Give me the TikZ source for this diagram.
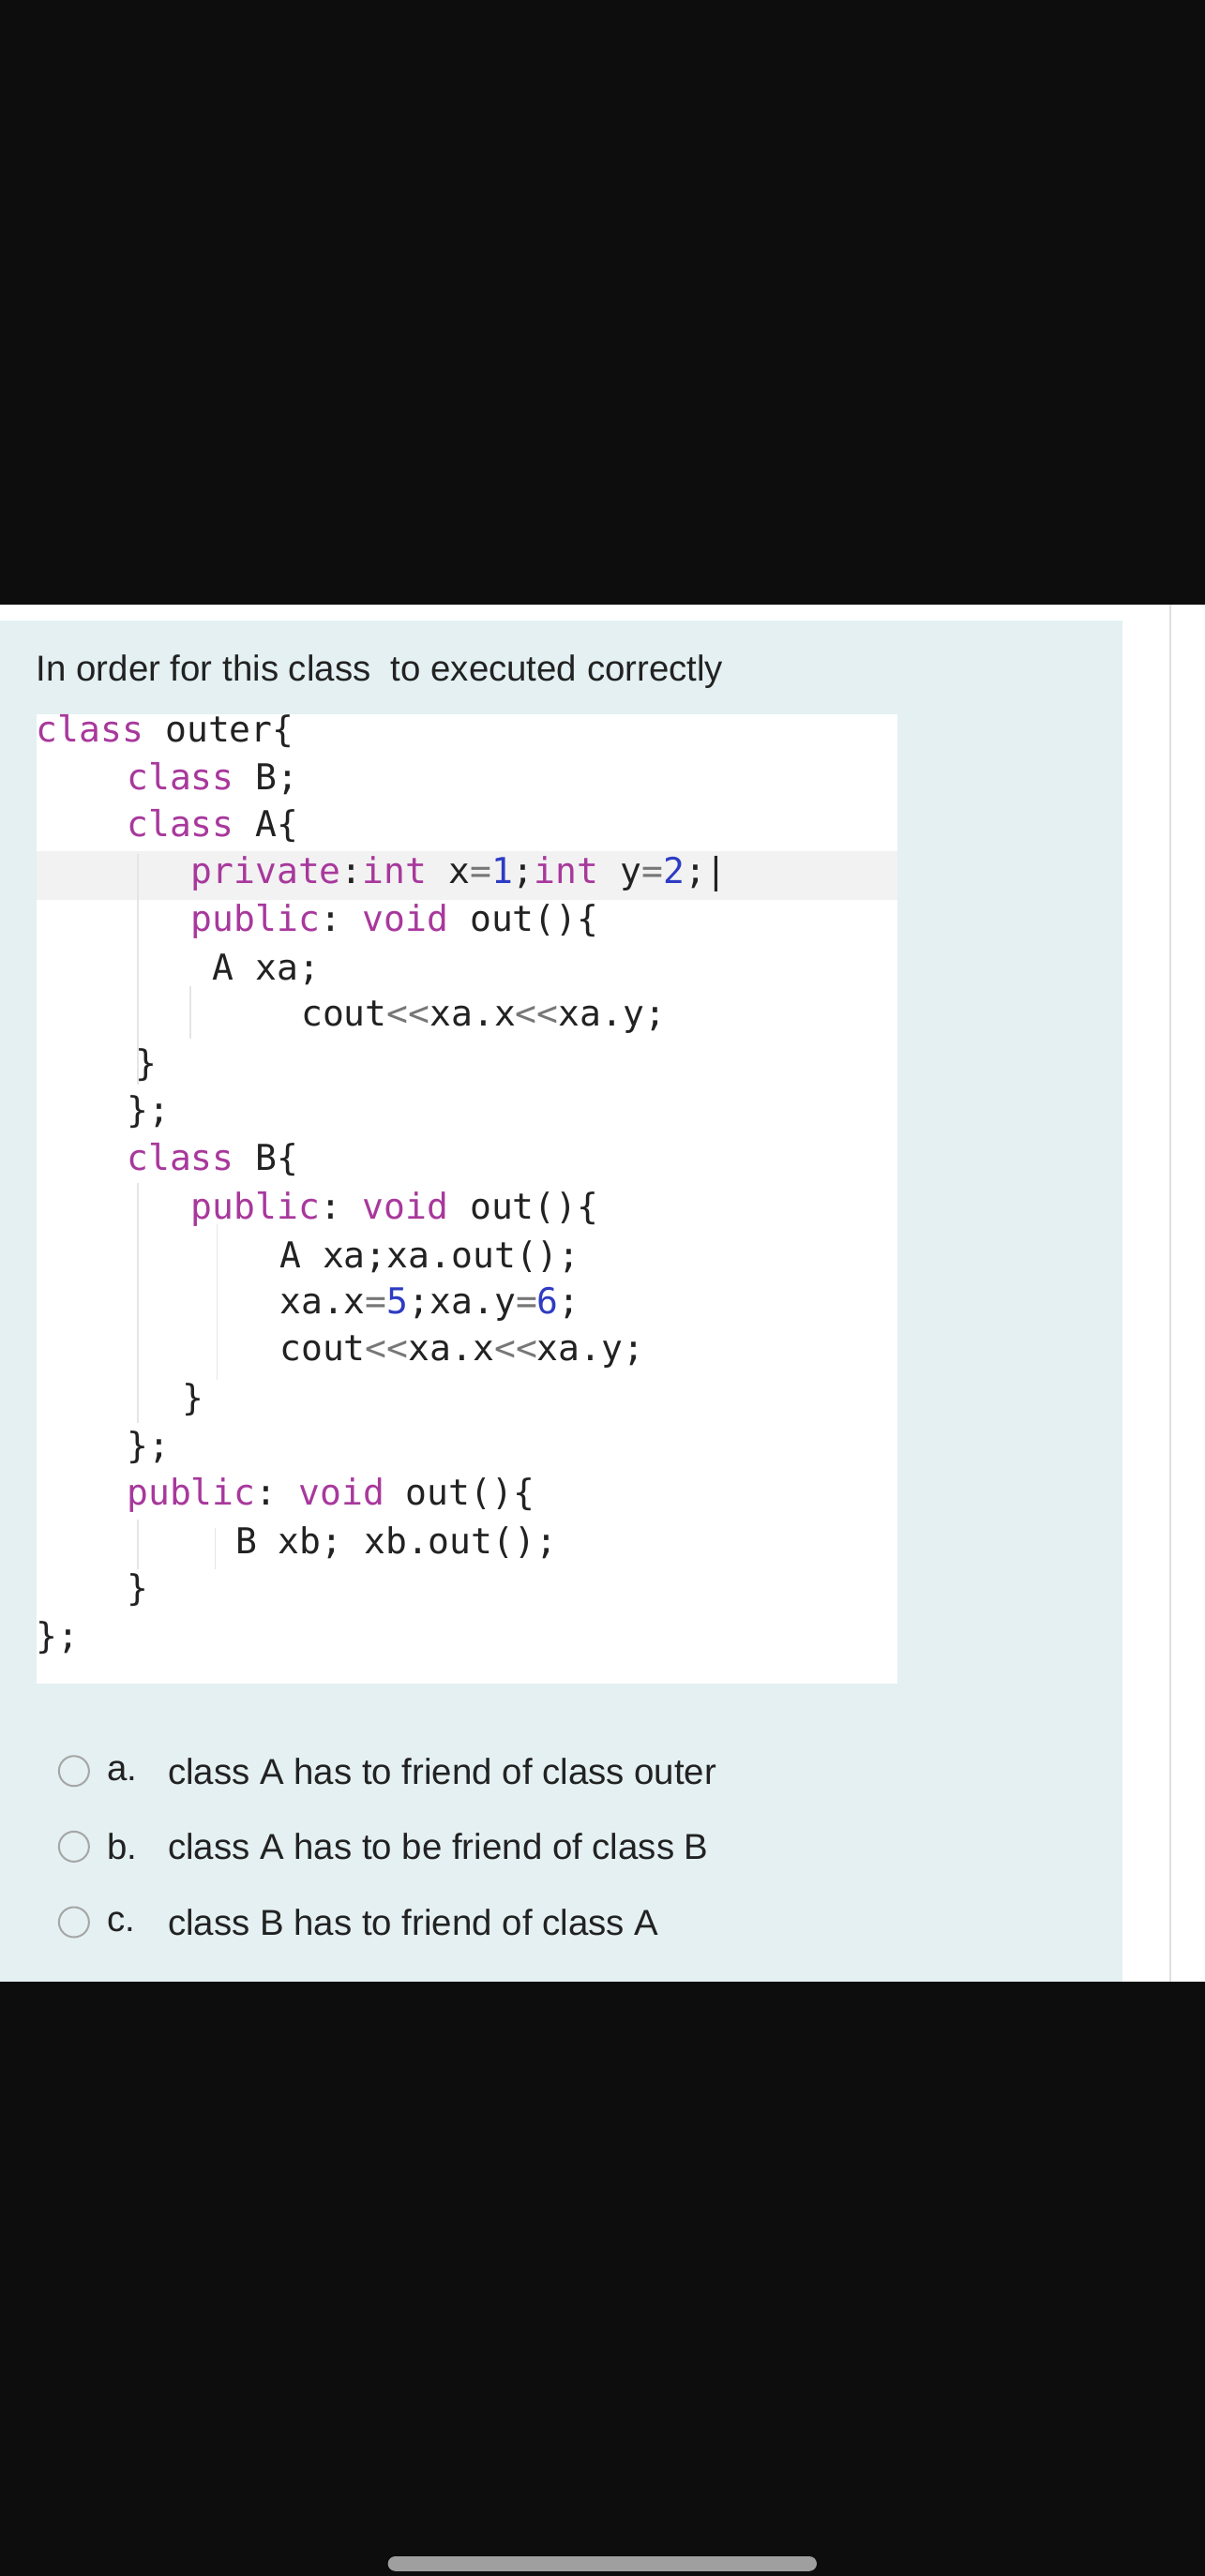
\documentclass[tikz,border=0pt]{standalone}
\usepackage{fontspec}
\setmainfont{Liberation Sans}
\newfontfamily\codefont{DejaVu Sans Mono}
\definecolor{kw}{HTML}{A8389C}
\definecolor{num}{HTML}{2E3BC4}
\definecolor{op}{HTML}{777777}
\definecolor{txt}{HTML}{222222}
\definecolor{panel}{HTML}{E4F0F2}
\newcommand{\kw}[1]{\textcolor{kw}{#1}}
\newcommand{\nm}[1]{\textcolor{num}{#1}}
\newcommand{\op}[1]{\textcolor{op}{#1}}
\frenchspacing
\begin{document}
\begin{tikzpicture}[x=0.876pt,y=-0.876pt,
  code/.style={anchor=west,inner sep=0pt,font=\frenchspacing\codefont\fontsize{19pt}{21pt}\selectfont,text=txt},
  qtext/.style={anchor=west,inner sep=0pt,font=\fontsize{19.2pt}{21pt}\selectfont,text=txt},
  radio/.style={circle,draw=gray!70,line width=1pt,minimum size=16pt,inner sep=0pt}]
\useasboundingbox (0,0) rectangle (733,1568);
\fill[black!95] (0,0) rectangle (733,1568);
\fill[white] (0,368) rectangle (733,1206);
\fill[panel] (0,378) rectangle (683,1206);
\draw[gray!25,line width=1pt] (712,368) -- (712,1206);
\fill[white] (22,435) rectangle (546,1025);
\fill[gray!10] (22,518) rectangle (546,548);
\foreach \xx/\ya/\yb in {84/520/660, 116/600/632, 84/720/866, 132/745/840, 84/925/955, 131/930/955}
  \draw[gray!20,line width=0.8pt] (\xx,\ya) -- (\xx,\yb);
\node[qtext] (title) at (22,409) {In order for this class\ \ to executed correctly};
\node[code] (l1) at (22,445) {\kw{class} outer\{};
\node[code] (l2) at (77,474) {\kw{class} B;};
\node[code] (l3) at (77,503) {\kw{class} A\{};
\node[code] (l4) at (116,532) {\kw{private}:\kw{int} x\op{=}\nm{1};\kw{int} y\op{=}\nm{2};|};
\node[code] (l5) at (116,561) {\kw{public}: \kw{void} out()\{};
\node[code] (l6) at (129,590) {A xa;};
\node[code] (l7) at (183,619) {cout\op{<<}xa.x\op{<<}xa.y;};
\node[code] (l8) at (82,648) {\}};
\node[code] (l9) at (77,677) {\};};
\node[code] (l10) at (77,706) {\kw{class} B\{};
\node[code] (l11) at (116,736) {\kw{public}: \kw{void} out()\{};
\node[code] (l12) at (170,765) {A xa;xa.out();};
\node[code] (l13) at (170,794) {xa.x\op{=}\nm{5};xa.y\op{=}\nm{6};};
\node[code] (l14) at (170,823) {cout\op{<<}xa.x\op{<<}xa.y;};
\node[code] (l15) at (111,852) {\}};
\node[code] (l16) at (77,881) {\};};
\node[code] (l17) at (77,910) {\kw{public}: \kw{void} out()\{};
\node[code] (l18) at (143,939) {B xb; xb.out();};
\node[code] (l19) at (77,968) {\}};
\node[code] (l20) at (22,997) {\};};
\foreach \yy/\ll/\tt [count=\i] in {1078/a./class A has to friend of class outer, 1124/b./class A has to be friend of class B, 1170/c./class B has to friend of class A}{
  \node[radio] (r\i) at (45,\yy) {};
  \node[qtext] (lab\i) at (65,\yy) {\ll};
  \node[qtext] (opt\i) at (102,\yy) {\tt};
}
\fill[gray!75,rounded corners=4pt] (236,1556) rectangle (497,1565);
\end{tikzpicture}
\end{document}
